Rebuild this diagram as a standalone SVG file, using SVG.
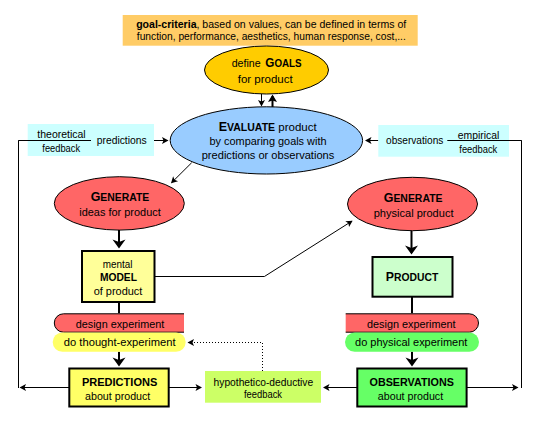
<svg xmlns="http://www.w3.org/2000/svg" width="542" height="425" viewBox="0 0 542 425">
<defs>
<style>
text{font-family:"Liberation Sans",Arial,sans-serif;font-size:11.5px;fill:#000;text-anchor:middle}
.st{text-anchor:start}
.b{font-weight:bold}
.big{font-weight:bold;font-size:12.5px}
.sm{font-weight:bold;font-size:10.5px}
.ln{fill:none;stroke:#000;stroke-width:1}
.thick{fill:none;stroke:#000;stroke-width:2}
.dot{fill:none;stroke:#000;stroke-width:1;stroke-dasharray:1 2}
.ell{stroke:#000;stroke-width:1}
.box{stroke:#000;stroke-width:2}
</style>
<marker id="ah" viewBox="-7 -4 9 8" refX="0" refY="0" markerWidth="9" markerHeight="8" markerUnits="userSpaceOnUse" orient="auto">
<path d="M1,0 L-5.5,-3.5 L-4,0 L-5.5,3.5 Z" fill="#000"/>
</marker>
<marker id="ahm" viewBox="-9 -6 11 12" refX="0" refY="0" markerWidth="11" markerHeight="12" markerUnits="userSpaceOnUse" orient="auto">
<path d="M1.5,0 L-6,-4.5 L-4.5,0 L-6,4.5 Z" fill="#000"/>
</marker>
<marker id="ahb" viewBox="-10 -8 13 16" refX="0" refY="0" markerWidth="13" markerHeight="16" markerUnits="userSpaceOnUse" orient="auto">
<path d="M2,0 L-7,-6.5 L-4.5,0 L-7,6.5 Z" fill="#000"/>
</marker>
</defs>
<rect width="542" height="425" fill="#fff"/>

<g id="connectors">
<line class="ln" x1="261.5" y1="94" x2="261.5" y2="105.5" marker-end="url(#ah)"/>
<line class="thick" x1="272.5" y1="107" x2="272.5" y2="96" marker-end="url(#ahm)"/>
<line class="ln" x1="154" y1="140.5" x2="167.5" y2="140.5" marker-end="url(#ah)"/>
<line class="ln" x1="378.3" y1="140.5" x2="366" y2="140.5" marker-end="url(#ah)"/>
<line class="ln" x1="191.7" y1="162.7" x2="171.7" y2="182.6" marker-end="url(#ah)"/>
<line class="thick" x1="119" y1="230" x2="119" y2="246.5" marker-end="url(#ahb)"/>
<polyline class="ln" points="155,276.5 264.4,276.5 351.8,221.2" marker-end="url(#ah)"/>
<line class="thick" x1="411.5" y1="230.7" x2="411.5" y2="252.5" marker-end="url(#ahb)"/>
<line class="thick" x1="119" y1="302" x2="119" y2="313.3"/>
<line class="thick" x1="412" y1="296.7" x2="412" y2="313.3"/>
<line class="thick" x1="119" y1="351.7" x2="119" y2="364.5" marker-end="url(#ahb)"/>
<line class="thick" x1="412" y1="351.7" x2="412" y2="364.5" marker-end="url(#ahb)"/>
<line class="ln" x1="168.7" y1="387.5" x2="201" y2="387.5" marker-end="url(#ah)"/>
<line class="ln" x1="357.3" y1="387.5" x2="324" y2="387.5" marker-end="url(#ah)"/>
<polyline class="dot" points="262.5,371 262.5,342.5 188.5,342.5" marker-end="url(#ah)"/>
<line class="ln" x1="69" y1="387.5" x2="20.5" y2="387.5" marker-end="url(#ah)"/>
<polyline class="ln" points="18.5,388 18.5,140.5 91,140.5"/>
<line class="ln" x1="466.6" y1="387.5" x2="517.5" y2="387.5" marker-end="url(#ah)"/>
<polyline class="ln" points="521.5,388 521.5,140.5 447.3,140.5"/>
</g>

<g id="criteria">
<rect x="122.7" y="15" width="295" height="30.7" fill="#FFCC66"/>
<text x="271.2" y="28.3" textLength="270" lengthAdjust="spacingAndGlyphs"><tspan class="b">goal-criteria</tspan>, based on values, can be defined in terms of</text>
<text x="271.3" y="39.8" textLength="269" lengthAdjust="spacingAndGlyphs">function, performance, aesthetics, human response, cost,...</text>
</g>

<g id="goals">
<ellipse class="ell" cx="266.5" cy="70" rx="62" ry="24" fill="#FFCC00"/>
<text class="st" x="231.7" y="67.3" textLength="29" lengthAdjust="spacingAndGlyphs">define</text>
<text class="st" x="265.3" y="67.3" textLength="36.3" lengthAdjust="spacingAndGlyphs"><tspan class="big">G</tspan><tspan class="sm">OALS</tspan></text>
<text x="265.2" y="82.6" textLength="55" lengthAdjust="spacingAndGlyphs">for product</text>
</g>

<g id="evaluate">
<ellipse class="ell" cx="266.4" cy="140.4" rx="96.2" ry="33.6" fill="#99CCFF"/>
<text x="267.7" y="130.6" textLength="98" lengthAdjust="spacingAndGlyphs"><tspan class="big">E</tspan><tspan class="sm">VALUATE</tspan> product</text>
<text x="268" y="144.9" textLength="117" lengthAdjust="spacingAndGlyphs">by comparing goals with</text>
<text x="268" y="159.3" textLength="132.6" lengthAdjust="spacingAndGlyphs">predictions or observations</text>
</g>

<g id="theoretical-feedback">
<rect x="27.7" y="124" width="126.3" height="32" fill="#CCFFFF"/>
<line class="ln" x1="18.5" y1="140.5" x2="91" y2="140.5"/>
<text x="61.5" y="137.6" textLength="48.4" lengthAdjust="spacingAndGlyphs">theoretical</text>
<text x="61.2" y="151.8" textLength="37.7" lengthAdjust="spacingAndGlyphs">feedback</text>
<text x="121.7" y="144.3" textLength="50" lengthAdjust="spacingAndGlyphs">predictions</text>
</g>

<g id="empirical-feedback">
<rect x="378.3" y="125" width="130.7" height="31.7" fill="#CCFFFF"/>
<line class="ln" x1="447.3" y1="140.5" x2="521.5" y2="140.5"/>
<text x="414.7" y="144.3" textLength="57.3" lengthAdjust="spacingAndGlyphs">observations</text>
<text x="478.5" y="138.6" textLength="41.6" lengthAdjust="spacingAndGlyphs">empirical</text>
<text x="478.3" y="152.8" textLength="38" lengthAdjust="spacingAndGlyphs">feedback</text>
</g>

<g id="generate-ideas">
<ellipse class="ell" cx="119.3" cy="203.4" rx="65" ry="26.7" fill="#FF6666"/>
<text x="120" y="201.1" textLength="58.7" lengthAdjust="spacingAndGlyphs"><tspan class="big">G</tspan><tspan class="sm">ENERATE</tspan></text>
<text x="120" y="215.9" textLength="81.5" lengthAdjust="spacingAndGlyphs">ideas for product</text>
</g>

<g id="generate-physical">
<ellipse class="ell" cx="412.5" cy="204" rx="65" ry="26.7" fill="#FF6666"/>
<text x="413.1" y="201.6" textLength="58.8" lengthAdjust="spacingAndGlyphs"><tspan class="big">G</tspan><tspan class="sm">ENERATE</tspan></text>
<text x="413.6" y="216.9" textLength="79.8" lengthAdjust="spacingAndGlyphs">physical product</text>
</g>

<g id="model">
<rect class="box" x="82" y="251" width="72.5" height="51" fill="#FFFF99"/>
<text x="117.5" y="267.8" textLength="29.7" lengthAdjust="spacingAndGlyphs">mental</text>
<text class="b" x="118.4" y="281.3" textLength="37" lengthAdjust="spacingAndGlyphs">MODEL</text>
<text x="118" y="294.8" textLength="48.7" lengthAdjust="spacingAndGlyphs">of product</text>
</g>

<g id="product">
<rect class="box" x="372.5" y="257" width="80" height="39.7" fill="#CCFFCC"/>
<text x="412" y="281.3" textLength="52.5" lengthAdjust="spacingAndGlyphs"><tspan class="big">P</tspan><tspan class="sm">RODUCT</tspan></text>
</g>

<g id="thought-experiment">
<path d="M184,313.8 H63.5 A9.2,9.2 0 0 0 54.3,323 A9.2,9.2 0 0 0 63.5,332.2 H184" fill="#FF6666" stroke="#000" stroke-width="1"/>
<rect x="52.7" y="332.4" width="133" height="19.4" rx="9.7" fill="#FFFF66"/>
<text x="120" y="327.6" textLength="88.5" lengthAdjust="spacingAndGlyphs">design experiment</text>
<text x="119.7" y="346.2" textLength="111.7" lengthAdjust="spacingAndGlyphs">do thought-experiment</text>
</g>

<g id="physical-experiment">
<path d="M345.7,313.8 H469.3 A9.2,9.2 0 0 1 478.5,323 A9.2,9.2 0 0 1 469.3,332.2 H345.7" fill="#FF6666" stroke="#000" stroke-width="1"/>
<rect x="345" y="332.4" width="134" height="19.4" rx="9.7" fill="#66FF66"/>
<text x="411.3" y="327.6" textLength="88.5" lengthAdjust="spacingAndGlyphs">design experiment</text>
<text x="411.2" y="346.2" textLength="112.3" lengthAdjust="spacingAndGlyphs">do physical experiment</text>
</g>

<g id="predictions">
<rect class="box" x="69.3" y="368.5" width="99.4" height="38" fill="#FFFF66"/>
<text class="b" x="119.6" y="386.2" textLength="75.4" lengthAdjust="spacingAndGlyphs">PREDICTIONS</text>
<text x="117.7" y="399.8" textLength="65.3" lengthAdjust="spacingAndGlyphs">about product</text>
</g>

<g id="hypothetico-deductive">
<rect x="205" y="371" width="116" height="31.7" fill="#CCFF66"/>
<text x="263.4" y="386.2" textLength="99.6" lengthAdjust="spacingAndGlyphs">hypothetico-deductive</text>
<text x="263" y="397.8" textLength="38" lengthAdjust="spacingAndGlyphs">feedback</text>
</g>

<g id="observations">
<rect class="box" x="357.3" y="368.5" width="109.3" height="38" fill="#66FF66"/>
<text class="b" x="411.7" y="386.2" textLength="84.3" lengthAdjust="spacingAndGlyphs">OBSERVATIONS</text>
<text x="410.5" y="399.8" textLength="65.3" lengthAdjust="spacingAndGlyphs">about product</text>
</g>
</svg>
